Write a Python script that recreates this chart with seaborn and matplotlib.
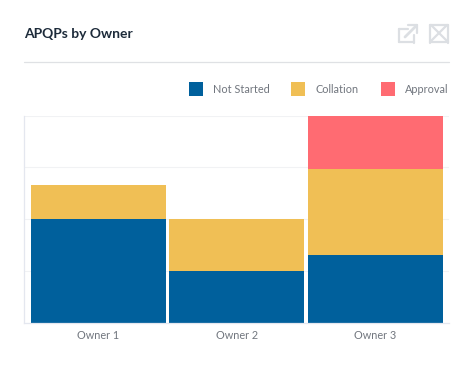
import matplotlib
matplotlib.use('Agg')
import matplotlib.pyplot as plt
from matplotlib.patches import Rectangle
from matplotlib.lines import Line2D
import pandas as pd
import seaborn as sns

owners = ['Owner 1', 'Owner 2', 'Owner 3']
not_started = [2.0, 1.0, 1.3]
collation = [0.66, 1.0, 1.66]
approval = [0.0, 0.0, 1.04]
y_ticks = [0, 1, 2, 3, 4]
title = 'APQPs by Owner'
legend_labels = ['Not Started', 'Collation', 'Approval']
colors = ['#00609c', '#f0bf55', '#ff6b72']

sns.set_theme(style='white')
plt.rcParams['font.family'] = ['Lato', 'DejaVu Sans']

W, H = 474, 365
fig = plt.figure(figsize=(W / 100, H / 100), dpi=100, facecolor='white')

# plot area in pixels of the reference
left, right, top, bottom = 24, 449, 115.5, 322.5
ax = fig.add_axes([left / W, 1 - bottom / H, (right - left) / W, (bottom - top) / H])

df = pd.DataFrame({'owner': owners, 'a': not_started, 'c': collation, 'r': approval})
df['mid'] = df['a'] + df['c']
df['total'] = df['mid'] + df['r']

# stacked look: tallest layer first
bar_kw = dict(x='owner', width=0.975, saturation=1, linewidth=0, ax=ax)
sns.barplot(data=df, y='total', color=colors[2], **bar_kw)
sns.barplot(data=df, y='mid', color=colors[1], **bar_kw)
sns.barplot(data=df, y='a', color=colors[0], **bar_kw)

ax.set_xlim(-0.538, 2.531)
ax.set_ylim(0, 4)
ax.set_yticks(y_ticks)
ax.set_yticklabels([])
ax.set_xlabel('')
ax.set_ylabel('')
ax.grid(axis='y', color='#f1f2f4', lw=0.8)
ax.set_axisbelow(True)
ax.tick_params(axis='x', length=0, pad=5.5, labelsize=7.8, labelcolor='#71767e')
ax.tick_params(axis='y', length=0)
sns.despine(ax=ax, top=True, right=True)
for s in ['left', 'bottom']:
    ax.spines[s].set_color('#e4e7ef')
    ax.spines[s].set_linewidth(0.9)

# card header
fig.text(24 / W, 1 - 33.5 / H, title, fontsize=10, fontweight='bold', color='#1d2b3a', va='center')
fig.add_artist(Line2D([24 / W, 449 / W], [1 - 61.5 / H] * 2, color='#dfe1e4', lw=0.9))

# legend
swatches = [189, 291, 381]
for x, lab, c in zip(swatches, legend_labels, colors):
    fig.add_artist(Rectangle((x / W, 1 - 96 / H), 14 / W, 14 / H, color=c, lw=0))
    fig.text((x + 24) / W, 1 - 89.5 / H, lab, fontsize=7.8, color='#71767e', va='center')

# export / expand icons
ic = '#dcdfe3'
def seg(x0, y0, x1, y1, lw=1.6):
    fig.add_artist(Line2D([x0 / W, x1 / W], [1 - y0 / H, 1 - y1 / H], color=ic, lw=lw))
seg(408, 29, 399, 29); seg(399, 28.5, 399, 42); seg(398.5, 42, 414, 42); seg(414, 42.5, 414, 35)
seg(405, 37, 416, 26, 2); seg(408, 25, 417, 25); seg(417, 24.5, 417, 33)
# corners and crossing arrows of the expand icon
seg(430, 25, 448, 25); seg(448, 24.5, 448, 42.5); seg(448, 42, 430, 42); seg(430, 42.5, 430, 24.5)
seg(431, 25, 447, 41); seg(447, 25, 431, 41)

fig.savefig('out.png', dpi=100)
